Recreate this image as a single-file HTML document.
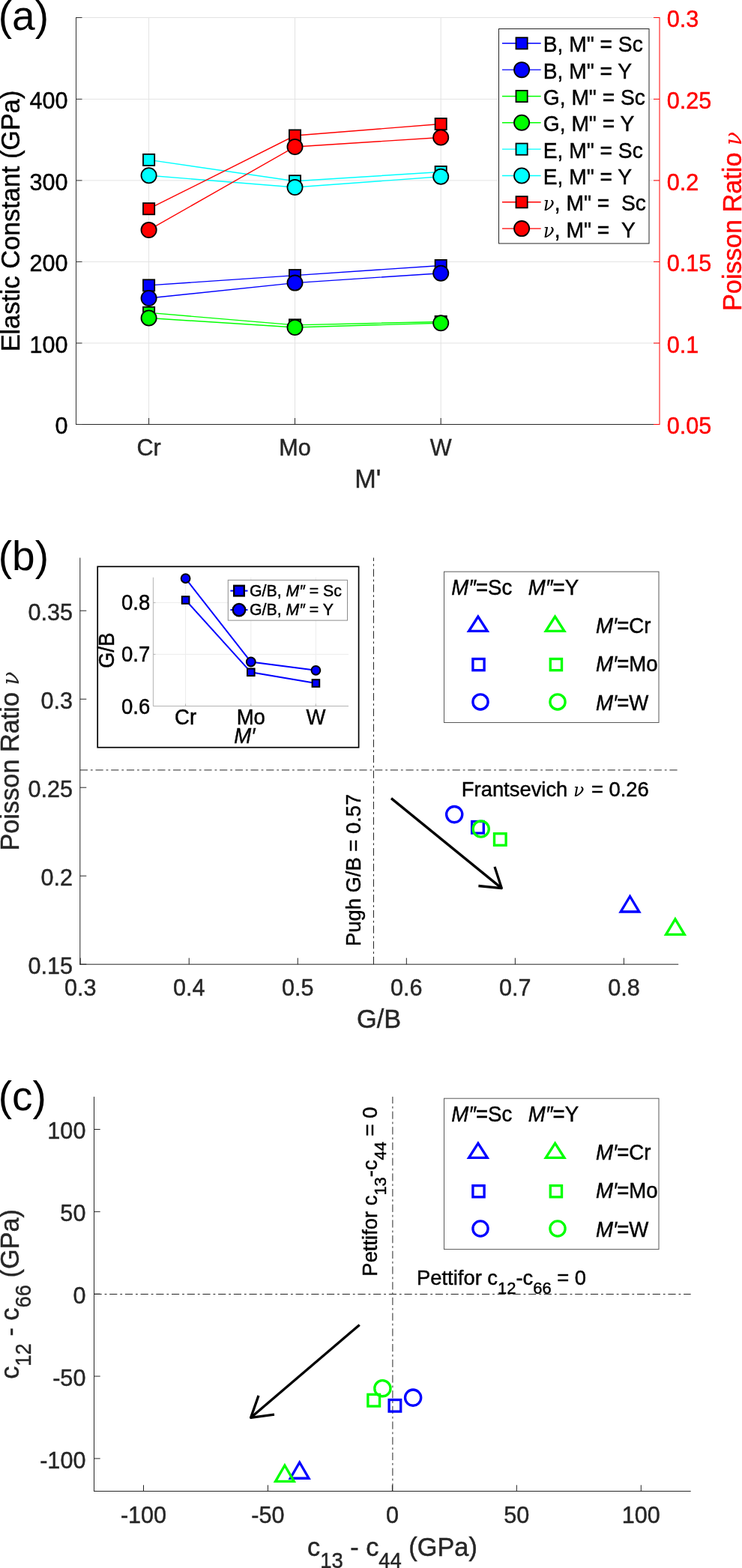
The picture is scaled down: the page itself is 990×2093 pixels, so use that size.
<!DOCTYPE html>
<html><head><meta charset="utf-8"><title>Figure</title>
<style>html,body{margin:0;padding:0;background:#fff;} svg{display:block;}</style>
</head><body>
<svg width="990" height="2093" viewBox="0 0 990 2093">
<rect x="0" y="0" width="990" height="2093" fill="#fff"/>
<line x1="101.5" y1="566.5" x2="880" y2="566.5" stroke="#e3e3e3" stroke-width="1"/>
<line x1="101.5" y1="458.0" x2="880" y2="458.0" stroke="#e3e3e3" stroke-width="1"/>
<line x1="101.5" y1="349.4" x2="880" y2="349.4" stroke="#e3e3e3" stroke-width="1"/>
<line x1="101.5" y1="240.9" x2="880" y2="240.9" stroke="#e3e3e3" stroke-width="1"/>
<line x1="101.5" y1="132.3" x2="880" y2="132.3" stroke="#e3e3e3" stroke-width="1"/>
<line x1="101.5" y1="23.5" x2="880" y2="23.5" stroke="#e3e3e3" stroke-width="1"/>
<line x1="198.6" y1="23.5" x2="198.6" y2="566.5" stroke="#e3e3e3" stroke-width="1"/>
<line x1="393.5" y1="23.5" x2="393.5" y2="566.5" stroke="#e3e3e3" stroke-width="1"/>
<line x1="588.2" y1="23.5" x2="588.2" y2="566.5" stroke="#e3e3e3" stroke-width="1"/>
<line x1="101.5" y1="23.0" x2="101.5" y2="567.0" stroke="#333" stroke-width="1"/>
<line x1="101.0" y1="566.5" x2="880" y2="566.5" stroke="#262626" stroke-width="1"/>
<line x1="880" y1="23.0" x2="880" y2="567.0" stroke="#ff0000" stroke-width="1"/>
<line x1="101.5" y1="566.5" x2="109.5" y2="566.5" stroke="#333" stroke-width="1"/>
<line x1="872" y1="566.5" x2="880" y2="566.5" stroke="#ff0000" stroke-width="1"/>
<line x1="101.5" y1="458.0" x2="109.5" y2="458.0" stroke="#333" stroke-width="1"/>
<line x1="872" y1="458.0" x2="880" y2="458.0" stroke="#ff0000" stroke-width="1"/>
<line x1="101.5" y1="349.4" x2="109.5" y2="349.4" stroke="#333" stroke-width="1"/>
<line x1="872" y1="349.4" x2="880" y2="349.4" stroke="#ff0000" stroke-width="1"/>
<line x1="101.5" y1="240.9" x2="109.5" y2="240.9" stroke="#333" stroke-width="1"/>
<line x1="872" y1="240.9" x2="880" y2="240.9" stroke="#ff0000" stroke-width="1"/>
<line x1="101.5" y1="132.3" x2="109.5" y2="132.3" stroke="#333" stroke-width="1"/>
<line x1="872" y1="132.3" x2="880" y2="132.3" stroke="#ff0000" stroke-width="1"/>
<line x1="101.5" y1="23.5" x2="109.5" y2="23.5" stroke="#333" stroke-width="1"/>
<line x1="872" y1="23.5" x2="880" y2="23.5" stroke="#ff0000" stroke-width="1"/>
<line x1="198.6" y1="566.5" x2="198.6" y2="558.0" stroke="#262626" stroke-width="1"/>
<line x1="393.5" y1="566.5" x2="393.5" y2="558.0" stroke="#262626" stroke-width="1"/>
<line x1="588.2" y1="566.5" x2="588.2" y2="558.0" stroke="#262626" stroke-width="1"/>
<text transform="translate(90.60 579.10) scale(1 1.042)" text-anchor="end" fill="#000" style="font-family:'Liberation Sans', Arial, Helvetica, sans-serif;font-size:30.6px;" stroke="#000" stroke-width="0.45">0</text>
<text transform="translate(90.60 470.60) scale(1 1.042)" text-anchor="end" fill="#000" style="font-family:'Liberation Sans', Arial, Helvetica, sans-serif;font-size:30.6px;" stroke="#000" stroke-width="0.45">100</text>
<text transform="translate(90.60 362.00) scale(1 1.042)" text-anchor="end" fill="#000" style="font-family:'Liberation Sans', Arial, Helvetica, sans-serif;font-size:30.6px;" stroke="#000" stroke-width="0.45">200</text>
<text transform="translate(90.60 253.50) scale(1 1.042)" text-anchor="end" fill="#000" style="font-family:'Liberation Sans', Arial, Helvetica, sans-serif;font-size:30.6px;" stroke="#000" stroke-width="0.45">300</text>
<text transform="translate(90.60 144.90) scale(1 1.042)" text-anchor="end" fill="#000" style="font-family:'Liberation Sans', Arial, Helvetica, sans-serif;font-size:30.6px;" stroke="#000" stroke-width="0.45">400</text>
<text transform="translate(889.80 579.10) scale(1 1.042)" text-anchor="start" fill="#ff0000" style="font-family:'Liberation Sans', Arial, Helvetica, sans-serif;font-size:30.6px;" stroke="#ff0000" stroke-width="0.45">0.05</text>
<text transform="translate(889.80 470.60) scale(1 1.042)" text-anchor="start" fill="#ff0000" style="font-family:'Liberation Sans', Arial, Helvetica, sans-serif;font-size:30.6px;" stroke="#ff0000" stroke-width="0.45">0.1</text>
<text transform="translate(889.80 362.00) scale(1 1.042)" text-anchor="start" fill="#ff0000" style="font-family:'Liberation Sans', Arial, Helvetica, sans-serif;font-size:30.6px;" stroke="#ff0000" stroke-width="0.45">0.15</text>
<text transform="translate(889.80 253.50) scale(1 1.042)" text-anchor="start" fill="#ff0000" style="font-family:'Liberation Sans', Arial, Helvetica, sans-serif;font-size:30.6px;" stroke="#ff0000" stroke-width="0.45">0.2</text>
<text transform="translate(889.80 144.90) scale(1 1.042)" text-anchor="start" fill="#ff0000" style="font-family:'Liberation Sans', Arial, Helvetica, sans-serif;font-size:30.6px;" stroke="#ff0000" stroke-width="0.45">0.25</text>
<text transform="translate(889.80 36.10) scale(1 1.042)" text-anchor="start" fill="#ff0000" style="font-family:'Liberation Sans', Arial, Helvetica, sans-serif;font-size:30.6px;" stroke="#ff0000" stroke-width="0.45">0.3</text>
<text transform="translate(198.60 608.30) scale(1 1.042)" text-anchor="middle" fill="#262626" style="font-family:'Liberation Sans', Arial, Helvetica, sans-serif;font-size:30.6px;" stroke="#262626" stroke-width="0.45">Cr</text>
<text transform="translate(393.50 608.30) scale(1 1.042)" text-anchor="middle" fill="#262626" style="font-family:'Liberation Sans', Arial, Helvetica, sans-serif;font-size:30.6px;" stroke="#262626" stroke-width="0.45">Mo</text>
<text transform="translate(588.20 608.30) scale(1 1.042)" text-anchor="middle" fill="#262626" style="font-family:'Liberation Sans', Arial, Helvetica, sans-serif;font-size:30.6px;" stroke="#262626" stroke-width="0.45">W</text>
<text transform="translate(490.70 651.00) scale(1 1.042)" text-anchor="middle" fill="#262626" style="font-family:'Liberation Sans', Arial, Helvetica, sans-serif;font-size:34.3px;" stroke="#262626" stroke-width="0.45">M'</text>
<text transform="translate(26.40 295.00) rotate(-90) scale(1 1.042)" text-anchor="middle" fill="#000" style="font-family:'Liberation Sans', Arial, Helvetica, sans-serif;font-size:34.3px;" stroke="#000" stroke-width="0.45">Elastic Constant (GPa)</text>
<text transform="translate(989.00 295.50) rotate(-90) scale(1 1.042)" text-anchor="middle" fill="#ff0000" style="font-family:'Liberation Sans', Arial, Helvetica, sans-serif;font-size:34.3px;" stroke="#ff0000" stroke-width="0.45">Poisson Ratio <tspan style="font-family:'DejaVu Serif', 'Liberation Serif', serif;font-style:italic;font-size:29.50px;stroke-width:0">&#957;</tspan></text>
<polyline points="198.6,380.9 393.5,367.6 588.2,354.5" fill="none" stroke="#0000ff" stroke-width="1.4"/>
<rect x="191.00" y="373.30" width="15.2" height="15.2" fill="#0000ff" stroke="#000" stroke-width="1.8"/>
<rect x="385.90" y="360.00" width="15.2" height="15.2" fill="#0000ff" stroke="#000" stroke-width="1.8"/>
<rect x="580.60" y="346.90" width="15.2" height="15.2" fill="#0000ff" stroke="#000" stroke-width="1.8"/>
<polyline points="198.6,398.0 393.5,377.6 588.2,364.7" fill="none" stroke="#0000ff" stroke-width="1.4"/>
<circle cx="198.6" cy="398.0" r="10.1" fill="#0000ff" stroke="#000" stroke-width="1.8"/>
<circle cx="393.5" cy="377.6" r="10.1" fill="#0000ff" stroke="#000" stroke-width="1.8"/>
<circle cx="588.2" cy="364.7" r="10.1" fill="#0000ff" stroke="#000" stroke-width="1.8"/>
<polyline points="198.6,417.4 393.5,433.9 588.2,429.5" fill="none" stroke="#00ff00" stroke-width="1.4"/>
<rect x="191.00" y="409.80" width="15.2" height="15.2" fill="#00ff00" stroke="#000" stroke-width="1.8"/>
<rect x="385.90" y="426.30" width="15.2" height="15.2" fill="#00ff00" stroke="#000" stroke-width="1.8"/>
<rect x="580.60" y="421.90" width="15.2" height="15.2" fill="#00ff00" stroke="#000" stroke-width="1.8"/>
<polyline points="198.6,424.5 393.5,437.0 588.2,431.2" fill="none" stroke="#00ff00" stroke-width="1.4"/>
<circle cx="198.6" cy="424.5" r="10.1" fill="#00ff00" stroke="#000" stroke-width="1.8"/>
<circle cx="393.5" cy="437.0" r="10.1" fill="#00ff00" stroke="#000" stroke-width="1.8"/>
<circle cx="588.2" cy="431.2" r="10.1" fill="#00ff00" stroke="#000" stroke-width="1.8"/>
<polyline points="198.6,213.4 393.5,241.8 588.2,229.5" fill="none" stroke="#00ffff" stroke-width="1.4"/>
<rect x="191.00" y="205.80" width="15.2" height="15.2" fill="#00ffff" stroke="#000" stroke-width="1.8"/>
<rect x="385.90" y="234.20" width="15.2" height="15.2" fill="#00ffff" stroke="#000" stroke-width="1.8"/>
<rect x="580.60" y="221.90" width="15.2" height="15.2" fill="#00ffff" stroke="#000" stroke-width="1.8"/>
<polyline points="198.6,234.2 393.5,250.0 588.2,235.8" fill="none" stroke="#00ffff" stroke-width="1.4"/>
<circle cx="198.6" cy="234.2" r="10.1" fill="#00ffff" stroke="#000" stroke-width="1.8"/>
<circle cx="393.5" cy="250.0" r="10.1" fill="#00ffff" stroke="#000" stroke-width="1.8"/>
<circle cx="588.2" cy="235.8" r="10.1" fill="#00ffff" stroke="#000" stroke-width="1.8"/>
<polyline points="198.6,278.7 393.5,181.0 588.2,165.5" fill="none" stroke="#ff0000" stroke-width="1.4"/>
<rect x="191.00" y="271.10" width="15.2" height="15.2" fill="#ff0000" stroke="#000" stroke-width="1.8"/>
<rect x="385.90" y="173.40" width="15.2" height="15.2" fill="#ff0000" stroke="#000" stroke-width="1.8"/>
<rect x="580.60" y="157.90" width="15.2" height="15.2" fill="#ff0000" stroke="#000" stroke-width="1.8"/>
<polyline points="198.6,306.9 393.5,196.0 588.2,183.5" fill="none" stroke="#ff0000" stroke-width="1.4"/>
<circle cx="198.6" cy="306.9" r="10.1" fill="#ff0000" stroke="#000" stroke-width="1.8"/>
<circle cx="393.5" cy="196.0" r="10.1" fill="#ff0000" stroke="#000" stroke-width="1.8"/>
<circle cx="588.2" cy="183.5" r="10.1" fill="#ff0000" stroke="#000" stroke-width="1.8"/>
<rect x="665.5" y="38.5" width="200.5" height="286.5" fill="#fff" stroke="#262626" stroke-width="1"/>
<line x1="670" y1="57.8" x2="721.7" y2="57.8" stroke="#0000ff" stroke-width="1.4"/>
<rect x="688.50" y="50.20" width="15.2" height="15.2" fill="#0000ff" stroke="#000" stroke-width="1.8"/>
<text transform="translate(724.80 69.30) scale(1 1.042)" text-anchor="start" fill="#000" style="font-family:'Liberation Sans', Arial, Helvetica, sans-serif;font-size:28.2px;" stroke="#000" stroke-width="0.45">B, M&quot; = Sc</text>
<line x1="670" y1="93.13" x2="721.7" y2="93.13" stroke="#0000ff" stroke-width="1.4"/>
<circle cx="696.1" cy="93.13" r="10.1" fill="#0000ff" stroke="#000" stroke-width="1.8"/>
<text transform="translate(724.80 104.63) scale(1 1.042)" text-anchor="start" fill="#000" style="font-family:'Liberation Sans', Arial, Helvetica, sans-serif;font-size:28.2px;" stroke="#000" stroke-width="0.45">B, M&quot; = Y</text>
<line x1="670" y1="128.45999999999998" x2="721.7" y2="128.45999999999998" stroke="#00ff00" stroke-width="1.4"/>
<rect x="688.50" y="120.86" width="15.2" height="15.2" fill="#00ff00" stroke="#000" stroke-width="1.8"/>
<text transform="translate(724.80 139.96) scale(1 1.042)" text-anchor="start" fill="#000" style="font-family:'Liberation Sans', Arial, Helvetica, sans-serif;font-size:28.2px;" stroke="#000" stroke-width="0.45">G, M&quot; = Sc</text>
<line x1="670" y1="163.79" x2="721.7" y2="163.79" stroke="#00ff00" stroke-width="1.4"/>
<circle cx="696.1" cy="163.79" r="10.1" fill="#00ff00" stroke="#000" stroke-width="1.8"/>
<text transform="translate(724.80 175.29) scale(1 1.042)" text-anchor="start" fill="#000" style="font-family:'Liberation Sans', Arial, Helvetica, sans-serif;font-size:28.2px;" stroke="#000" stroke-width="0.45">G, M&quot; = Y</text>
<line x1="670" y1="199.12" x2="721.7" y2="199.12" stroke="#00ffff" stroke-width="1.4"/>
<rect x="688.50" y="191.52" width="15.2" height="15.2" fill="#00ffff" stroke="#000" stroke-width="1.8"/>
<text transform="translate(724.80 210.62) scale(1 1.042)" text-anchor="start" fill="#000" style="font-family:'Liberation Sans', Arial, Helvetica, sans-serif;font-size:28.2px;" stroke="#000" stroke-width="0.45">E, M&quot; = Sc</text>
<line x1="670" y1="234.45" x2="721.7" y2="234.45" stroke="#00ffff" stroke-width="1.4"/>
<circle cx="696.1" cy="234.45" r="10.1" fill="#00ffff" stroke="#000" stroke-width="1.8"/>
<text transform="translate(724.80 245.95) scale(1 1.042)" text-anchor="start" fill="#000" style="font-family:'Liberation Sans', Arial, Helvetica, sans-serif;font-size:28.2px;" stroke="#000" stroke-width="0.45">E, M&quot; = Y</text>
<line x1="670" y1="269.78" x2="721.7" y2="269.78" stroke="#ff0000" stroke-width="1.4"/>
<rect x="688.50" y="262.18" width="15.2" height="15.2" fill="#ff0000" stroke="#000" stroke-width="1.8"/>
<text transform="translate(724.80 281.28) scale(1 1.042)" text-anchor="start" fill="#000" style="font-family:'Liberation Sans', Arial, Helvetica, sans-serif;font-size:28.2px;" stroke="#000" stroke-width="0.45"><tspan style="font-family:'DejaVu Serif', 'Liberation Serif', serif;font-style:italic;font-size:24.25px;stroke-width:0">&#957;</tspan><tspan dx="0.3">, M&quot; = &#160;Sc</tspan></text>
<line x1="670" y1="305.11" x2="721.7" y2="305.11" stroke="#ff0000" stroke-width="1.4"/>
<circle cx="696.1" cy="305.11" r="10.1" fill="#ff0000" stroke="#000" stroke-width="1.8"/>
<text transform="translate(724.80 316.61) scale(1 1.042)" text-anchor="start" fill="#000" style="font-family:'Liberation Sans', Arial, Helvetica, sans-serif;font-size:28.2px;" stroke="#000" stroke-width="0.45"><tspan style="font-family:'DejaVu Serif', 'Liberation Serif', serif;font-style:italic;font-size:24.25px;stroke-width:0">&#957;</tspan><tspan dx="0.3">, M&quot; = &#160;Y</tspan></text>
<text transform="translate(-2.20 40.40) scale(1 1.01)" text-anchor="start" fill="#000" style="font-family:'Liberation Sans', Arial, Helvetica, sans-serif;font-size:55.0px;">(a)</text>
<line x1="498.5" y1="1287.2" x2="498.5" y2="744.5" stroke="#262626" stroke-width="1" stroke-dasharray="10.2 3.9 2.8 3.8"/>
<line x1="106.8" y1="1027.9" x2="905.2" y2="1027.9" stroke="#262626" stroke-width="1" stroke-dasharray="10.2 3.9 2.8 3.8"/>
<line x1="106.8" y1="744.5" x2="106.8" y2="1287.7" stroke="#262626" stroke-width="1"/>
<line x1="106.3" y1="1287.2" x2="905.2" y2="1287.2" stroke="#262626" stroke-width="1"/>
<line x1="106.8" y1="1287.2" x2="115.3" y2="1287.2" stroke="#262626" stroke-width="1"/>
<text transform="translate(97.00 1299.80) scale(1 1.042)" text-anchor="end" fill="#262626" style="font-family:'Liberation Sans', Arial, Helvetica, sans-serif;font-size:30.6px;" stroke="#262626" stroke-width="0.45">0.15</text>
<line x1="106.8" y1="1169.2" x2="115.3" y2="1169.2" stroke="#262626" stroke-width="1"/>
<text transform="translate(97.00 1181.80) scale(1 1.042)" text-anchor="end" fill="#262626" style="font-family:'Liberation Sans', Arial, Helvetica, sans-serif;font-size:30.6px;" stroke="#262626" stroke-width="0.45">0.2</text>
<line x1="106.8" y1="1051.2" x2="115.3" y2="1051.2" stroke="#262626" stroke-width="1"/>
<text transform="translate(97.00 1063.80) scale(1 1.042)" text-anchor="end" fill="#262626" style="font-family:'Liberation Sans', Arial, Helvetica, sans-serif;font-size:30.6px;" stroke="#262626" stroke-width="0.45">0.25</text>
<line x1="106.8" y1="933.2" x2="115.3" y2="933.2" stroke="#262626" stroke-width="1"/>
<text transform="translate(97.00 945.80) scale(1 1.042)" text-anchor="end" fill="#262626" style="font-family:'Liberation Sans', Arial, Helvetica, sans-serif;font-size:30.6px;" stroke="#262626" stroke-width="0.45">0.3</text>
<line x1="106.8" y1="815.2" x2="115.3" y2="815.2" stroke="#262626" stroke-width="1"/>
<text transform="translate(97.00 827.80) scale(1 1.042)" text-anchor="end" fill="#262626" style="font-family:'Liberation Sans', Arial, Helvetica, sans-serif;font-size:30.6px;" stroke="#262626" stroke-width="0.45">0.35</text>
<line x1="107.2" y1="1287.2" x2="107.2" y2="1278.7" stroke="#262626" stroke-width="1"/>
<text transform="translate(107.20 1329.00) scale(1 1.042)" text-anchor="middle" fill="#262626" style="font-family:'Liberation Sans', Arial, Helvetica, sans-serif;font-size:30.6px;" stroke="#262626" stroke-width="0.45">0.3</text>
<line x1="252.24000000000007" y1="1287.2" x2="252.24000000000007" y2="1278.7" stroke="#262626" stroke-width="1"/>
<text transform="translate(252.24 1329.00) scale(1 1.042)" text-anchor="middle" fill="#262626" style="font-family:'Liberation Sans', Arial, Helvetica, sans-serif;font-size:30.6px;" stroke="#262626" stroke-width="0.45">0.4</text>
<line x1="397.28000000000003" y1="1287.2" x2="397.28000000000003" y2="1278.7" stroke="#262626" stroke-width="1"/>
<text transform="translate(397.28 1329.00) scale(1 1.042)" text-anchor="middle" fill="#262626" style="font-family:'Liberation Sans', Arial, Helvetica, sans-serif;font-size:30.6px;" stroke="#262626" stroke-width="0.45">0.5</text>
<line x1="542.32" y1="1287.2" x2="542.32" y2="1278.7" stroke="#262626" stroke-width="1"/>
<text transform="translate(542.32 1329.00) scale(1 1.042)" text-anchor="middle" fill="#262626" style="font-family:'Liberation Sans', Arial, Helvetica, sans-serif;font-size:30.6px;" stroke="#262626" stroke-width="0.45">0.6</text>
<line x1="687.36" y1="1287.2" x2="687.36" y2="1278.7" stroke="#262626" stroke-width="1"/>
<text transform="translate(687.36 1329.00) scale(1 1.042)" text-anchor="middle" fill="#262626" style="font-family:'Liberation Sans', Arial, Helvetica, sans-serif;font-size:30.6px;" stroke="#262626" stroke-width="0.45">0.7</text>
<line x1="832.4000000000001" y1="1287.2" x2="832.4000000000001" y2="1278.7" stroke="#262626" stroke-width="1"/>
<text transform="translate(832.40 1329.00) scale(1 1.042)" text-anchor="middle" fill="#262626" style="font-family:'Liberation Sans', Arial, Helvetica, sans-serif;font-size:30.6px;" stroke="#262626" stroke-width="0.45">0.8</text>
<text transform="translate(505.50 1372.30) scale(1 1.042)" text-anchor="middle" fill="#262626" style="font-family:'Liberation Sans', Arial, Helvetica, sans-serif;font-size:34.3px;" stroke="#262626" stroke-width="0.45">G/B</text>
<text transform="translate(24.60 1016.00) rotate(-90) scale(1 1.042)" text-anchor="middle" fill="#262626" style="font-family:'Liberation Sans', Arial, Helvetica, sans-serif;font-size:34.3px;" stroke="#262626" stroke-width="0.45">Poisson Ratio <tspan style="font-family:'DejaVu Serif', 'Liberation Serif', serif;font-style:italic;font-size:29.50px;stroke-width:0">&#957;</tspan></text>
<text transform="translate(-2.20 760.80) scale(1 1.01)" text-anchor="start" fill="#000" style="font-family:'Liberation Sans', Arial, Helvetica, sans-serif;font-size:55.0px;">(b)</text>
<text transform="translate(481.00 1161.40) rotate(-90) scale(1 1.042)" text-anchor="middle" fill="#000" style="font-family:'Liberation Sans', Arial, Helvetica, sans-serif;font-size:27.4px;" stroke="#000" stroke-width="0.45">Pugh G/B = 0.57</text>
<text transform="translate(615.80 1062.50) scale(1 1.042)" text-anchor="start" fill="#000" style="font-family:'Liberation Sans', Arial, Helvetica, sans-serif;font-size:27.4px;" stroke="#000" stroke-width="0.45">Frantsevich <tspan style="font-family:'DejaVu Serif', 'Liberation Serif', serif;font-style:italic;font-size:23.56px;stroke-width:0">&#957;</tspan><tspan dx="2"> = 0.26</tspan></text>
<g stroke="#000" stroke-width="3" fill="none" stroke-linecap="butt">
<line x1="522.0" y1="1065.6" x2="669.3" y2="1185.6" stroke="#000" stroke-width="3.3"/>
<polyline points="660.0,1157.0 669.3,1185.6 638.4,1182.5" fill="none" stroke="#000" stroke-width="3.3" stroke-linejoin="round"/>
</g>
<circle cx="606.2" cy="1087.1" r="10.6" fill="none" stroke="#0000ff" stroke-width="3.35"/>
<rect x="629.70" y="1096.50" width="15.6" height="15.6" fill="none" stroke="#0000ff" stroke-width="3.35"/>
<circle cx="641.7" cy="1106.5" r="10.6" fill="none" stroke="#00ff00" stroke-width="3.35"/>
<rect x="659.50" y="1112.70" width="15.6" height="15.6" fill="none" stroke="#00ff00" stroke-width="3.35"/>
<polygon points="840.5,1196.5 828.2,1217.0 852.8,1217.0" fill="none" stroke="#0000ff" stroke-width="3.35" stroke-linejoin="miter" stroke-miterlimit="10"/>
<polygon points="900.9,1226.8 888.6,1247.4 913.1999999999999,1247.4" fill="none" stroke="#00ff00" stroke-width="3.35" stroke-linejoin="miter" stroke-miterlimit="10"/>
<rect x="592.5" y="763.1" width="286.5" height="201.4" fill="none" stroke="#595959" stroke-width="1"/>
<text transform="translate(602.20 793.80) scale(1 1.042)" text-anchor="start" fill="#000" style="font-family:'Liberation Sans', Arial, Helvetica, sans-serif;font-size:27.6px;" stroke="#000" stroke-width="0.45"><tspan style="font-style:italic">M&#8243;</tspan>=Sc</text>
<text transform="translate(704.80 793.80) scale(1 1.042)" text-anchor="start" fill="#000" style="font-family:'Liberation Sans', Arial, Helvetica, sans-serif;font-size:27.6px;" stroke="#000" stroke-width="0.45"><tspan style="font-style:italic">M&#8243;</tspan>=Y</text>
<text transform="translate(795.00 844.60) scale(1 1.042)" text-anchor="start" fill="#000" style="font-family:'Liberation Sans', Arial, Helvetica, sans-serif;font-size:27.6px;" stroke="#000" stroke-width="0.45"><tspan style="font-style:italic">M&#8242;</tspan>=Cr</text>
<text transform="translate(795.00 896.20) scale(1 1.042)" text-anchor="start" fill="#000" style="font-family:'Liberation Sans', Arial, Helvetica, sans-serif;font-size:27.6px;" stroke="#000" stroke-width="0.45"><tspan style="font-style:italic">M&#8242;</tspan>=Mo</text>
<text transform="translate(795.00 947.50) scale(1 1.042)" text-anchor="start" fill="#000" style="font-family:'Liberation Sans', Arial, Helvetica, sans-serif;font-size:27.6px;" stroke="#000" stroke-width="0.45"><tspan style="font-style:italic">M&#8242;</tspan>=W</text>
<polygon points="637.9,823.0 625.6,842.3 650.1999999999999,842.3" fill="none" stroke="#0000ff" stroke-width="3.35" stroke-linejoin="miter" stroke-miterlimit="10"/>
<polygon points="740.6,823.0 728.3000000000001,842.3 752.9,842.3" fill="none" stroke="#00ff00" stroke-width="3.35" stroke-linejoin="miter" stroke-miterlimit="10"/>
<rect x="630.90" y="879.50" width="15.2" height="15.2" fill="none" stroke="#0000ff" stroke-width="3.35"/>
<rect x="734.30" y="879.50" width="15.2" height="15.2" fill="none" stroke="#00ff00" stroke-width="3.35"/>
<circle cx="641.0" cy="936.9" r="10.1" fill="none" stroke="#0000ff" stroke-width="3.35"/>
<circle cx="744.0" cy="936.9" r="10.1" fill="none" stroke="#00ff00" stroke-width="3.35"/>
<rect x="130.2" y="756.3" width="348.4" height="241.4" fill="#fff" stroke="#000" stroke-width="1.7"/>
<line x1="204.4" y1="942.5" x2="465.0" y2="942.5" stroke="#ececec" stroke-width="1"/>
<line x1="204.4" y1="873.4" x2="465.0" y2="873.4" stroke="#ececec" stroke-width="1"/>
<line x1="204.4" y1="804.4" x2="465.0" y2="804.4" stroke="#ececec" stroke-width="1"/>
<line x1="247.6" y1="770.7" x2="247.6" y2="942.5" stroke="#ececec" stroke-width="1"/>
<line x1="334.8" y1="770.7" x2="334.8" y2="942.5" stroke="#ececec" stroke-width="1"/>
<line x1="421.4" y1="770.7" x2="421.4" y2="942.5" stroke="#ececec" stroke-width="1"/>
<line x1="204.4" y1="770.7" x2="204.4" y2="942.5" stroke="#b3b3b3" stroke-width="1"/>
<line x1="204.4" y1="942.5" x2="465.0" y2="942.5" stroke="#b3b3b3" stroke-width="1"/>
<line x1="204.4" y1="942.5" x2="207.4" y2="942.5" stroke="#b3b3b3" stroke-width="1"/>
<line x1="204.4" y1="873.4" x2="207.4" y2="873.4" stroke="#b3b3b3" stroke-width="1"/>
<line x1="204.4" y1="804.4" x2="207.4" y2="804.4" stroke="#b3b3b3" stroke-width="1"/>
<line x1="247.6" y1="942.5" x2="247.6" y2="939.5" stroke="#b3b3b3" stroke-width="1"/>
<line x1="334.8" y1="942.5" x2="334.8" y2="939.5" stroke="#b3b3b3" stroke-width="1"/>
<line x1="421.4" y1="942.5" x2="421.4" y2="939.5" stroke="#b3b3b3" stroke-width="1"/>
<text transform="translate(200.30 952.50) scale(1 1.042)" text-anchor="end" fill="#000" style="font-family:'Liberation Sans', Arial, Helvetica, sans-serif;font-size:27.5px;" stroke="#000" stroke-width="0.45">0.6</text>
<text transform="translate(200.30 883.40) scale(1 1.042)" text-anchor="end" fill="#000" style="font-family:'Liberation Sans', Arial, Helvetica, sans-serif;font-size:27.5px;" stroke="#000" stroke-width="0.45">0.7</text>
<text transform="translate(200.30 814.40) scale(1 1.042)" text-anchor="end" fill="#000" style="font-family:'Liberation Sans', Arial, Helvetica, sans-serif;font-size:27.5px;" stroke="#000" stroke-width="0.45">0.8</text>
<text transform="translate(247.60 967.00) scale(1 1.042)" text-anchor="middle" fill="#000" style="font-family:'Liberation Sans', Arial, Helvetica, sans-serif;font-size:27.5px;" stroke="#000" stroke-width="0.45">Cr</text>
<text transform="translate(334.80 967.00) scale(1 1.042)" text-anchor="middle" fill="#000" style="font-family:'Liberation Sans', Arial, Helvetica, sans-serif;font-size:27.5px;" stroke="#000" stroke-width="0.45">Mo</text>
<text transform="translate(421.40 967.00) scale(1 1.042)" text-anchor="middle" fill="#000" style="font-family:'Liberation Sans', Arial, Helvetica, sans-serif;font-size:27.5px;" stroke="#000" stroke-width="0.45">W</text>
<text transform="translate(326.30 991.50) scale(1 1.042)" text-anchor="middle" fill="#000" style="font-family:'Liberation Sans', Arial, Helvetica, sans-serif;font-size:27.5px;" stroke="#000" stroke-width="0.45"><tspan style="font-style:italic">M&#8242;</tspan></text>
<text transform="translate(152.00 868.20) rotate(-90) scale(1 1.042)" text-anchor="middle" fill="#000" style="font-family:'Liberation Sans', Arial, Helvetica, sans-serif;font-size:27.5px;" stroke="#000" stroke-width="0.45">G/B</text>
<polyline points="247.6,801.0 334.8,897.3 421.4,912.0" fill="none" stroke="#0000ff" stroke-width="2.0"/>
<rect x="242.80" y="796.20" width="9.6" height="9.6" fill="#0000ff" stroke="#000" stroke-width="2.0"/>
<rect x="330.00" y="892.50" width="9.6" height="9.6" fill="#0000ff" stroke="#000" stroke-width="2.0"/>
<rect x="416.60" y="907.20" width="9.6" height="9.6" fill="#0000ff" stroke="#000" stroke-width="2.0"/>
<polyline points="247.6,772.1 334.8,883.5 421.4,894.8" fill="none" stroke="#0000ff" stroke-width="2.0"/>
<circle cx="247.6" cy="772.1" r="5.9" fill="#0000ff" stroke="#000" stroke-width="2.0"/>
<circle cx="334.8" cy="883.5" r="5.9" fill="#0000ff" stroke="#000" stroke-width="2.0"/>
<circle cx="421.4" cy="894.8" r="5.9" fill="#0000ff" stroke="#000" stroke-width="2.0"/>
<rect x="304.3" y="774.3" width="159.2" height="53.8" fill="#fff" stroke="#8c8c8c" stroke-width="1"/>
<line x1="307.4" y1="788.6" x2="330.5" y2="788.6" stroke="#0000ff" stroke-width="2.0"/>
<rect x="312.20" y="781.80" width="13.6" height="13.6" fill="#0000ff" stroke="#000" stroke-width="2.4"/>
<line x1="307.4" y1="814.1" x2="330.5" y2="814.1" stroke="#0000ff" stroke-width="2.0"/>
<circle cx="319.0" cy="814.1" r="8.2" fill="#0000ff" stroke="#000" stroke-width="2.4"/>
<text transform="translate(333.00 795.80) scale(1 1.042)" text-anchor="start" fill="#000" style="font-family:'Liberation Sans', Arial, Helvetica, sans-serif;font-size:21.3px;" stroke="#000" stroke-width="0.45">G/B, <tspan style="font-style:italic">M&#8243;</tspan> = Sc</text>
<text transform="translate(333.00 821.30) scale(1 1.042)" text-anchor="start" fill="#000" style="font-family:'Liberation Sans', Arial, Helvetica, sans-serif;font-size:21.3px;" stroke="#000" stroke-width="0.45">G/B, <tspan style="font-style:italic">M&#8243;</tspan> = Y</text>
<line x1="523.9" y1="1990.5" x2="523.9" y2="1463.9" stroke="#262626" stroke-width="1" stroke-dasharray="10.2 3.9 2.8 3.8"/>
<line x1="125.5" y1="1727.5" x2="921.7" y2="1727.5" stroke="#262626" stroke-width="1" stroke-dasharray="10.2 3.9 2.8 3.8"/>
<line x1="125.5" y1="1463.9" x2="125.5" y2="1991.0" stroke="#262626" stroke-width="1"/>
<line x1="125.0" y1="1990.5" x2="921.7" y2="1990.5" stroke="#262626" stroke-width="1"/>
<line x1="125.5" y1="1946.9" x2="133.7" y2="1946.9" stroke="#262626" stroke-width="1"/>
<text transform="translate(114.40 1959.50) scale(1 1.042)" text-anchor="end" fill="#262626" style="font-family:'Liberation Sans', Arial, Helvetica, sans-serif;font-size:30.6px;" stroke="#262626" stroke-width="0.45">-100</text>
<line x1="191.5" y1="1990.5" x2="191.5" y2="1982.3" stroke="#262626" stroke-width="1"/>
<text transform="translate(191.50 2033.20) scale(1 1.042)" text-anchor="middle" fill="#262626" style="font-family:'Liberation Sans', Arial, Helvetica, sans-serif;font-size:30.6px;" stroke="#262626" stroke-width="0.45">-100</text>
<line x1="125.5" y1="1837.05" x2="133.7" y2="1837.05" stroke="#262626" stroke-width="1"/>
<text transform="translate(114.40 1849.65) scale(1 1.042)" text-anchor="end" fill="#262626" style="font-family:'Liberation Sans', Arial, Helvetica, sans-serif;font-size:30.6px;" stroke="#262626" stroke-width="0.45">-50</text>
<line x1="357.45" y1="1990.5" x2="357.45" y2="1982.3" stroke="#262626" stroke-width="1"/>
<text transform="translate(357.45 2033.20) scale(1 1.042)" text-anchor="middle" fill="#262626" style="font-family:'Liberation Sans', Arial, Helvetica, sans-serif;font-size:30.6px;" stroke="#262626" stroke-width="0.45">-50</text>
<line x1="125.5" y1="1727.2" x2="133.7" y2="1727.2" stroke="#262626" stroke-width="1"/>
<text transform="translate(114.40 1739.80) scale(1 1.042)" text-anchor="end" fill="#262626" style="font-family:'Liberation Sans', Arial, Helvetica, sans-serif;font-size:30.6px;" stroke="#262626" stroke-width="0.45">0</text>
<line x1="523.4" y1="1990.5" x2="523.4" y2="1982.3" stroke="#262626" stroke-width="1"/>
<text transform="translate(523.40 2033.20) scale(1 1.042)" text-anchor="middle" fill="#262626" style="font-family:'Liberation Sans', Arial, Helvetica, sans-serif;font-size:30.6px;" stroke="#262626" stroke-width="0.45">0</text>
<line x1="125.5" y1="1617.3500000000001" x2="133.7" y2="1617.3500000000001" stroke="#262626" stroke-width="1"/>
<text transform="translate(114.40 1629.95) scale(1 1.042)" text-anchor="end" fill="#262626" style="font-family:'Liberation Sans', Arial, Helvetica, sans-serif;font-size:30.6px;" stroke="#262626" stroke-width="0.45">50</text>
<line x1="689.3499999999999" y1="1990.5" x2="689.3499999999999" y2="1982.3" stroke="#262626" stroke-width="1"/>
<text transform="translate(689.35 2033.20) scale(1 1.042)" text-anchor="middle" fill="#262626" style="font-family:'Liberation Sans', Arial, Helvetica, sans-serif;font-size:30.6px;" stroke="#262626" stroke-width="0.45">50</text>
<line x1="125.5" y1="1507.5" x2="133.7" y2="1507.5" stroke="#262626" stroke-width="1"/>
<text transform="translate(114.40 1520.10) scale(1 1.042)" text-anchor="end" fill="#262626" style="font-family:'Liberation Sans', Arial, Helvetica, sans-serif;font-size:30.6px;" stroke="#262626" stroke-width="0.45">100</text>
<line x1="855.3" y1="1990.5" x2="855.3" y2="1982.3" stroke="#262626" stroke-width="1"/>
<text transform="translate(855.30 2033.20) scale(1 1.042)" text-anchor="middle" fill="#262626" style="font-family:'Liberation Sans', Arial, Helvetica, sans-serif;font-size:30.6px;" stroke="#262626" stroke-width="0.45">100</text>
<text transform="translate(523.40 2076.70) scale(1 1.042)" text-anchor="middle" fill="#262626" style="font-family:'Liberation Sans', Arial, Helvetica, sans-serif;font-size:34.3px;" stroke="#262626" stroke-width="0.45"><tspan dy="0">c</tspan><tspan dy="15.4" style="font-size:27.439999999999998px">13</tspan><tspan dy="-15.4"> - c</tspan><tspan dy="15.4" style="font-size:27.439999999999998px">44</tspan><tspan dy="-15.4"> (GPa)</tspan></text>
<text transform="translate(25.30 1727.40) rotate(-90) scale(1 1.042)" text-anchor="middle" fill="#262626" style="font-family:'Liberation Sans', Arial, Helvetica, sans-serif;font-size:34.3px;" stroke="#262626" stroke-width="0.45"><tspan dy="0">c</tspan><tspan dy="15.4" style="font-size:27.439999999999998px">12</tspan><tspan dy="-15.4"> - c</tspan><tspan dy="15.4" style="font-size:27.439999999999998px">66</tspan><tspan dy="-15.4"> (GPa)</tspan></text>
<text transform="translate(-2.20 1481.60) scale(1 1.01)" text-anchor="start" fill="#000" style="font-family:'Liberation Sans', Arial, Helvetica, sans-serif;font-size:55.0px;">(c)</text>
<text transform="translate(502.90 1590.60) rotate(-90) scale(1 1.042)" text-anchor="middle" fill="#000" style="font-family:'Liberation Sans', Arial, Helvetica, sans-serif;font-size:27.4px;" stroke="#000" stroke-width="0.45"><tspan dy="0">Pettifor c</tspan><tspan dy="12.0" style="font-size:21.92px">13</tspan><tspan dy="-12.0">-c</tspan><tspan dy="12.0" style="font-size:21.92px">44</tspan><tspan dy="-12.0"> = 0</tspan></text>
<text transform="translate(556.00 1715.20) scale(1 1.042)" text-anchor="start" fill="#000" style="font-family:'Liberation Sans', Arial, Helvetica, sans-serif;font-size:27.4px;" stroke="#000" stroke-width="0.45"><tspan dy="0">Pettifor c</tspan><tspan dy="11.6" style="font-size:21.92px">12</tspan><tspan dy="-11.6">-c</tspan><tspan dy="11.6" style="font-size:21.92px">66</tspan><tspan dy="-11.6"> = 0</tspan></text>
<line x1="479.7" y1="1768.4" x2="334.4" y2="1892.6" stroke="#000" stroke-width="3.3"/>
<polyline points="345.0,1862.9 334.6,1892.4 366.0,1888.2" fill="none" stroke="#000" stroke-width="3.3" stroke-linejoin="round"/>
<circle cx="510.4" cy="1853.2" r="10.6" fill="none" stroke="#00ff00" stroke-width="3.35"/>
<rect x="490.85" y="1861.35" width="15.7" height="15.7" fill="none" stroke="#00ff00" stroke-width="3.35"/>
<rect x="519.10" y="1868.50" width="15.6" height="15.6" fill="none" stroke="#0000ff" stroke-width="3.35"/>
<circle cx="551.1" cy="1865.6" r="10.6" fill="none" stroke="#0000ff" stroke-width="3.35"/>
<polygon points="399.7,1952.0 387.4,1973.2 412.0,1973.2" fill="none" stroke="#0000ff" stroke-width="3.35" stroke-linejoin="miter" stroke-miterlimit="10"/>
<polygon points="379.9,1956.0 367.59999999999997,1977.3 392.2,1977.3" fill="none" stroke="#00ff00" stroke-width="3.35" stroke-linejoin="miter" stroke-miterlimit="10"/>
<rect x="592.5" y="1466.2" width="286.5" height="201.4" fill="none" stroke="#595959" stroke-width="1"/>
<text transform="translate(602.20 1496.90) scale(1 1.042)" text-anchor="start" fill="#000" style="font-family:'Liberation Sans', Arial, Helvetica, sans-serif;font-size:27.6px;" stroke="#000" stroke-width="0.45"><tspan style="font-style:italic">M&#8243;</tspan>=Sc</text>
<text transform="translate(704.80 1496.90) scale(1 1.042)" text-anchor="start" fill="#000" style="font-family:'Liberation Sans', Arial, Helvetica, sans-serif;font-size:27.6px;" stroke="#000" stroke-width="0.45"><tspan style="font-style:italic">M&#8243;</tspan>=Y</text>
<text transform="translate(795.00 1547.70) scale(1 1.042)" text-anchor="start" fill="#000" style="font-family:'Liberation Sans', Arial, Helvetica, sans-serif;font-size:27.6px;" stroke="#000" stroke-width="0.45"><tspan style="font-style:italic">M&#8242;</tspan>=Cr</text>
<text transform="translate(795.00 1599.30) scale(1 1.042)" text-anchor="start" fill="#000" style="font-family:'Liberation Sans', Arial, Helvetica, sans-serif;font-size:27.6px;" stroke="#000" stroke-width="0.45"><tspan style="font-style:italic">M&#8242;</tspan>=Mo</text>
<text transform="translate(795.00 1650.60) scale(1 1.042)" text-anchor="start" fill="#000" style="font-family:'Liberation Sans', Arial, Helvetica, sans-serif;font-size:27.6px;" stroke="#000" stroke-width="0.45"><tspan style="font-style:italic">M&#8242;</tspan>=W</text>
<polygon points="637.9,1526.1 625.6,1545.4 650.1999999999999,1545.4" fill="none" stroke="#0000ff" stroke-width="3.35" stroke-linejoin="miter" stroke-miterlimit="10"/>
<polygon points="740.6,1526.1 728.3000000000001,1545.4 752.9,1545.4" fill="none" stroke="#00ff00" stroke-width="3.35" stroke-linejoin="miter" stroke-miterlimit="10"/>
<rect x="630.90" y="1582.60" width="15.2" height="15.2" fill="none" stroke="#0000ff" stroke-width="3.35"/>
<rect x="734.30" y="1582.60" width="15.2" height="15.2" fill="none" stroke="#00ff00" stroke-width="3.35"/>
<circle cx="641.0" cy="1640.0" r="10.1" fill="none" stroke="#0000ff" stroke-width="3.35"/>
<circle cx="744.0" cy="1640.0" r="10.1" fill="none" stroke="#00ff00" stroke-width="3.35"/>
</svg>
</body></html>
